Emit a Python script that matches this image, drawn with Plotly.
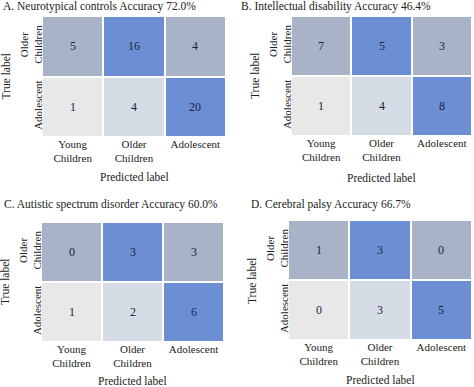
import plotly.graph_objects as go

pred_labels = ["Young<br>Children", "Older<br>Children", "Adolescent"]
true_labels = ["Older<br>Children", "Adolescent"]

titles = [
    "A. Neurotypical controls Accuracy 72.0%",
    "B. Intellectual disability Accuracy 46.4%",
    "C. Autistic spectrum disorder Accuracy 60.0%",
    "D. Cerebral palsy Accuracy 66.7%",
]
values_a = [[5, 16, 4], [1, 4, 20]]
values_b = [[7, 5, 3], [1, 4, 8]]
values_c = [[0, 3, 3], [1, 2, 6]]
values_d = [[1, 3, 0], [0, 3, 5]]
panels = [values_a, values_b, values_c, values_d]

# cell shading by position (style)
shade = [[1, 3, 1], [0, 2, 3]]
colorscale = [[0.0, "#E8E8E8"], [1 / 6, "#E8E8E8"],
              [1 / 6, "#A8B3C8"], [0.5, "#A8B3C8"],
              [0.5, "#D6DCE6"], [5 / 6, "#D6DCE6"],
              [5 / 6, "#6C8FD4"], [1.0, "#6C8FD4"]]

W, H = 474, 387
# pixel boxes: left, right, top, bottom
boxes = [(42, 226, 16, 137), (291, 472, 16, 136), (41, 224, 222, 342), (288, 472, 220, 340)]
title_pos = [(1, 7), (239, 7), (2, 204), (249, 204)]
xtitle_y = [177, 178, 381, 380]
ytitle_x = [5, 255, 5, 252]

FONT = "Liberation Serif, Tinos, Times New Roman, serif"
FS = 11.5
TFS = 11
fig = go.Figure()
for i, vals in enumerate(panels):
    n = "" if i == 0 else str(i + 1)
    fig.add_trace(go.Heatmap(
        z=shade, x=pred_labels, y=true_labels, text=vals,
        texttemplate="%{text}", textfont=dict(family=FONT, size=12, color="#1B2540"),
        colorscale=colorscale, zmin=0, zmax=3, showscale=False,
        xgap=2, ygap=2, hoverinfo="skip",
        xaxis="x" + n, yaxis="y" + n,
    ))
    l, r, t, b = boxes[i]
    fig.layout["xaxis" + n] = dict(
        domain=[l / W, r / W], anchor="y" + n, showgrid=False, zeroline=False,
        showline=False, ticks="", tickfont=dict(family=FONT, size=TFS, color="#222"),
        ticklabelstandoff=-1, fixedrange=True)
    fig.layout["yaxis" + n] = dict(
        domain=[1 - b / H, 1 - t / H], anchor="x" + n, showgrid=False, zeroline=False,
        autorange="reversed", ticks="", tickangle=-90, ticklabelstandoff=-3,
        tickfont=dict(family=FONT, size=TFS, color="#222"), fixedrange=True)
    tx, ty = title_pos[i]
    fig.add_annotation(text=titles[i], x=tx / W, y=1 - ty / H, xref="paper", yref="paper",
                       xanchor="left", yanchor="middle", showarrow=False,
                       font=dict(family=FONT, size=FS, color="#222"))
    fig.add_annotation(text="Predicted label", x=(l + r) / 2 / W, y=1 - xtitle_y[i] / H,
                       xref="paper", yref="paper", xanchor="center", yanchor="middle",
                       showarrow=False, font=dict(family=FONT, size=FS, color="#222"))
    fig.add_annotation(text="True label", x=ytitle_x[i] / W, y=1 - (t + b) / 2 / H,
                       xref="paper", yref="paper", xanchor="center", yanchor="middle",
                       textangle=-90, showarrow=False, font=dict(family=FONT, size=FS, color="#222"))

fig.update_layout(width=W, height=H, margin=dict(l=0, r=0, t=0, b=0),
                  paper_bgcolor="white", plot_bgcolor="white")
fig.write_html("out.html", config={"displayModeBar": False},
               post_script="document.body.style.margin='0';document.body.style.overflow='hidden';")
